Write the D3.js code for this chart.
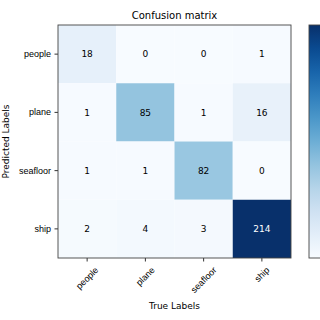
<!DOCTYPE html>
<html>
<head>
<meta charset="utf-8">
<script src="https://cdn.jsdelivr.net/npm/d3@7"></script>
<style>
  body { margin: 0; background: #fff; }
  svg { display: block; font-family: "DejaVu Sans", sans-serif; }
</style>
</head>
<body>
<div id="chart"></div>
<script>
// class names (rows = predicted, columns = true)
const classes = ["people", "plane", "seafloor", "ship"];
const rowPeople = [18, 0, 0, 1];
const rowPlane = [1, 85, 1, 16];
const rowSeafloor = [1, 1, 82, 0];
const rowShip = [2, 4, 3, 214];
const matrix = [rowPeople, rowPlane, rowSeafloor, rowShip];

const width = 320, height = 320;
const mLeft = 58, mTop = 25, size = 233;
const fs = 9;

const svg = d3.select("#chart").append("svg")
    .attr("width", width)
    .attr("height", height);

const cells = [];
matrix.forEach((row, i) => row.forEach((v, j) => cells.push({ r: classes[i], c: classes[j], v: v })));

const x = d3.scaleBand().domain(classes).range([mLeft, mLeft + size]);
const y = d3.scaleBand().domain(classes).range([mTop, mTop + size]);
const maxV = d3.max(cells, d => d.v);
const color = d3.scaleSequential(d3.interpolateBlues).domain([0, maxV]);

svg.selectAll(".cell")
    .data(cells)
    .enter()
    .append("rect")
    .attr("class", "cell")
    .attr("x", d => x(d.c))
    .attr("y", d => y(d.r))
    .attr("width", x.bandwidth())
    .attr("height", y.bandwidth())
    .attr("fill", d => color(d.v));

svg.selectAll(".val")
    .data(cells)
    .enter()
    .append("text")
    .attr("class", "val")
    .attr("x", d => x(d.c) + x.bandwidth() / 2)
    .attr("y", d => y(d.r) + y.bandwidth() / 2)
    .attr("dy", "0.35em")
    .attr("text-anchor", "middle")
    .style("font-size", fs + "px")
    .attr("fill", d => d.v > maxV / 2 ? "#fff" : "#000")
    .text(d => d.v);

// axes
const yAxis = svg.append("g")
    .attr("transform", `translate(${mLeft},0)`)
    .call(d3.axisLeft(y).tickSize(3.5).tickPadding(3.5));
yAxis.selectAll("text").style("font-size", fs + "px").attr("fill", "#000");

const xAxis = svg.append("g")
    .attr("transform", `translate(0,${mTop + size})`)
    .call(d3.axisBottom(x).tickSize(3.5).tickPadding(2));
// rotated labels centred under the tick, like matplotlib rotation=45
xAxis.selectAll("text")
    .style("font-size", fs + "px")
    .attr("fill", "#000")
    .style("text-anchor", "middle")
    .attr("y", 0)
    .attr("dy", "0.35em")
    .attr("transform", function () {
        const w = this.getComputedTextLength();
        const h = fs * 1.1;
        const cy = 7 + (w + h) / (2 * Math.SQRT2);
        return `translate(0,${cy}) rotate(-45)`;
    });
svg.selectAll(".domain").remove();
svg.selectAll(".tick line").attr("stroke", "#333");

svg.append("rect")
    .attr("x", mLeft).attr("y", mTop)
    .attr("width", size).attr("height", size)
    .attr("fill", "none").attr("stroke", "#444").attr("stroke-width", 0.9);

svg.append("text")
    .attr("x", mLeft + size / 2).attr("y", 18.5)
    .attr("text-anchor", "middle")
    .style("font-size", "10px")
    .text("Confusion matrix");

svg.append("text")
    .attr("x", mLeft + size / 2).attr("y", 309)
    .attr("text-anchor", "middle")
    .style("font-size", fs + "px")
    .text("True Labels");

svg.append("text")
    .attr("transform", `translate(9,${mTop + size / 2}) rotate(-90)`)
    .attr("text-anchor", "middle")
    .style("font-size", fs + "px")
    .text("Predicted Labels");

// colorbar
const defs = svg.append("defs");
const grad = defs.append("linearGradient").attr("id", "cb")
    .attr("x1", 0).attr("y1", 1).attr("x2", 0).attr("y2", 0);
d3.range(0, 1.01, 0.1).forEach(t => {
    grad.append("stop").attr("offset", t).attr("stop-color", d3.interpolateBlues(t));
});
const cbScale = d3.scaleLinear().domain([0, maxV]).range([mTop + size, mTop]);
svg.append("rect")
    .attr("x", 309).attr("y", cbScale(maxV))
    .attr("width", 18).attr("height", cbScale(0) - cbScale(maxV))
    .attr("fill", "url(#cb)")
    .attr("stroke", "#444").attr("stroke-width", 0.9);
</script>
</body>
</html>
